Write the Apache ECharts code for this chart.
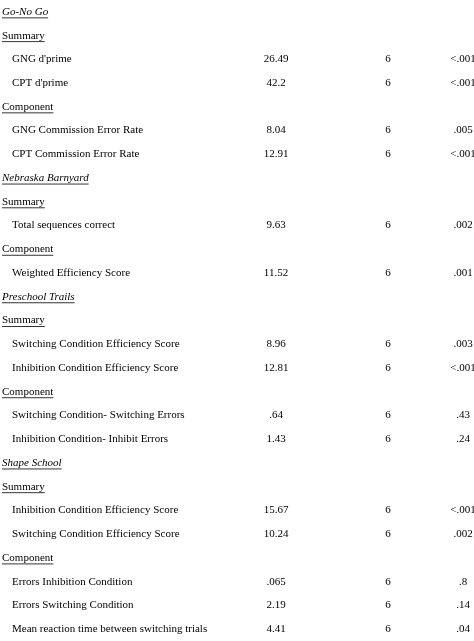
<!DOCTYPE html>
<html><head><meta charset="utf-8">
<script src="https://cdn.jsdelivr.net/npm/echarts@6/dist/echarts.min.js"></script>
<style>html,body{margin:0;background:#fff}#c{width:474px;height:641px}</style>
</head><body><div id="c"></div>
<script>
// kind: s = section (italic underline), h = sub heading (underline), r = data row
var kinds = ['s','h','r','r','h','r','r','s','h','r','h','r','s','h','r','r','h','r','r','s','h','r','r','h','r','r','r'];
var labels = ['Go-No Go','Summary','GNG d\'prime','CPT d\'prime','Component','GNG Commission Error Rate','CPT Commission Error Rate',
  'Nebraska Barnyard','Summary','Total sequences correct','Component','Weighted Efficiency Score',
  'Preschool Trails','Summary','Switching Condition Efficiency Score','Inhibition Condition Efficiency Score','Component','Switching Condition- Switching Errors','Inhibition Condition- Inhibit Errors',
  'Shape School','Summary','Inhibition Condition Efficiency Score','Switching Condition Efficiency Score','Component','Errors Inhibition Condition','Errors Switching Condition','Mean reaction time between switching trials'];
var stat = ['','','26.49','42.2','','8.04','12.91','','','9.63','','11.52','','','8.96','12.81','','.64','1.43','','','15.67','10.24','','.065','2.19','4.41'];
var df = ['','','6','6','','6','6','','','6','','6','','','6','6','','6','6','','','6','6','','6','6','6'];
var pval = ['','','<.001','<.001','','.005','<.001','','','.002','','.001','','','.003','<.001','','.43','.24','','','<.001','.002','','.8','.14','.04'];

var rowIds = labels.map(function (l, i) { return 'r' + i; });
var rows = labels.map(function (l, i) { return [i]; });
var font = 'Liberation Serif';
var ctx = document.createElement('canvas').getContext('2d');
var chart = echarts.init(document.getElementById('c'));
chart.setOption({
  animation: false,
  grid: {left: 0, right: 0, top: -11, height: 653},
  xAxis: {type: 'value', min: 0, max: 474, show: false},
  yAxis: {type: 'category', data: rowIds, inverse: true, show: false},
  series: [{
    type: 'custom',
    data: rows,
    encode: {y: 0},
    renderItem: function (params, api) {
      var i = api.value(0);
      var y = api.coord([0, i])[1];
      var k = kinds[i];
      var kids = [];
      var x0 = k === 'r' ? 12 : 2;
      var f = (k === 's' ? 'italic ' : '') + '11px "' + font + '"';
      kids.push({type: 'text', style: {text: labels[i], x: x0, y: y, fill: '#000', font: f, textVerticalAlign: 'middle'}});
      if (k !== 'r') {
        ctx.font = f;
        var tw = ctx.measureText(labels[i]).width;
        kids.push({type: 'line', shape: {x1: x0, y1: y + 6, x2: x0 + tw, y2: y + 6}, style: {stroke: '#000', lineWidth: 0.8}});
      } else {
        var cols = [[stat[i], 276], [df[i], 388], [pval[i], 463]];
        cols.forEach(function (c) {
          kids.push({type: 'text', style: {text: c[0], x: c[1], y: y, fill: '#000',
            font: '11px "' + font + '"', textAlign: 'center', textVerticalAlign: 'middle'}});
        });
      }
      return {type: 'group', children: kids};
    }
  }]
});
</script></body></html>
